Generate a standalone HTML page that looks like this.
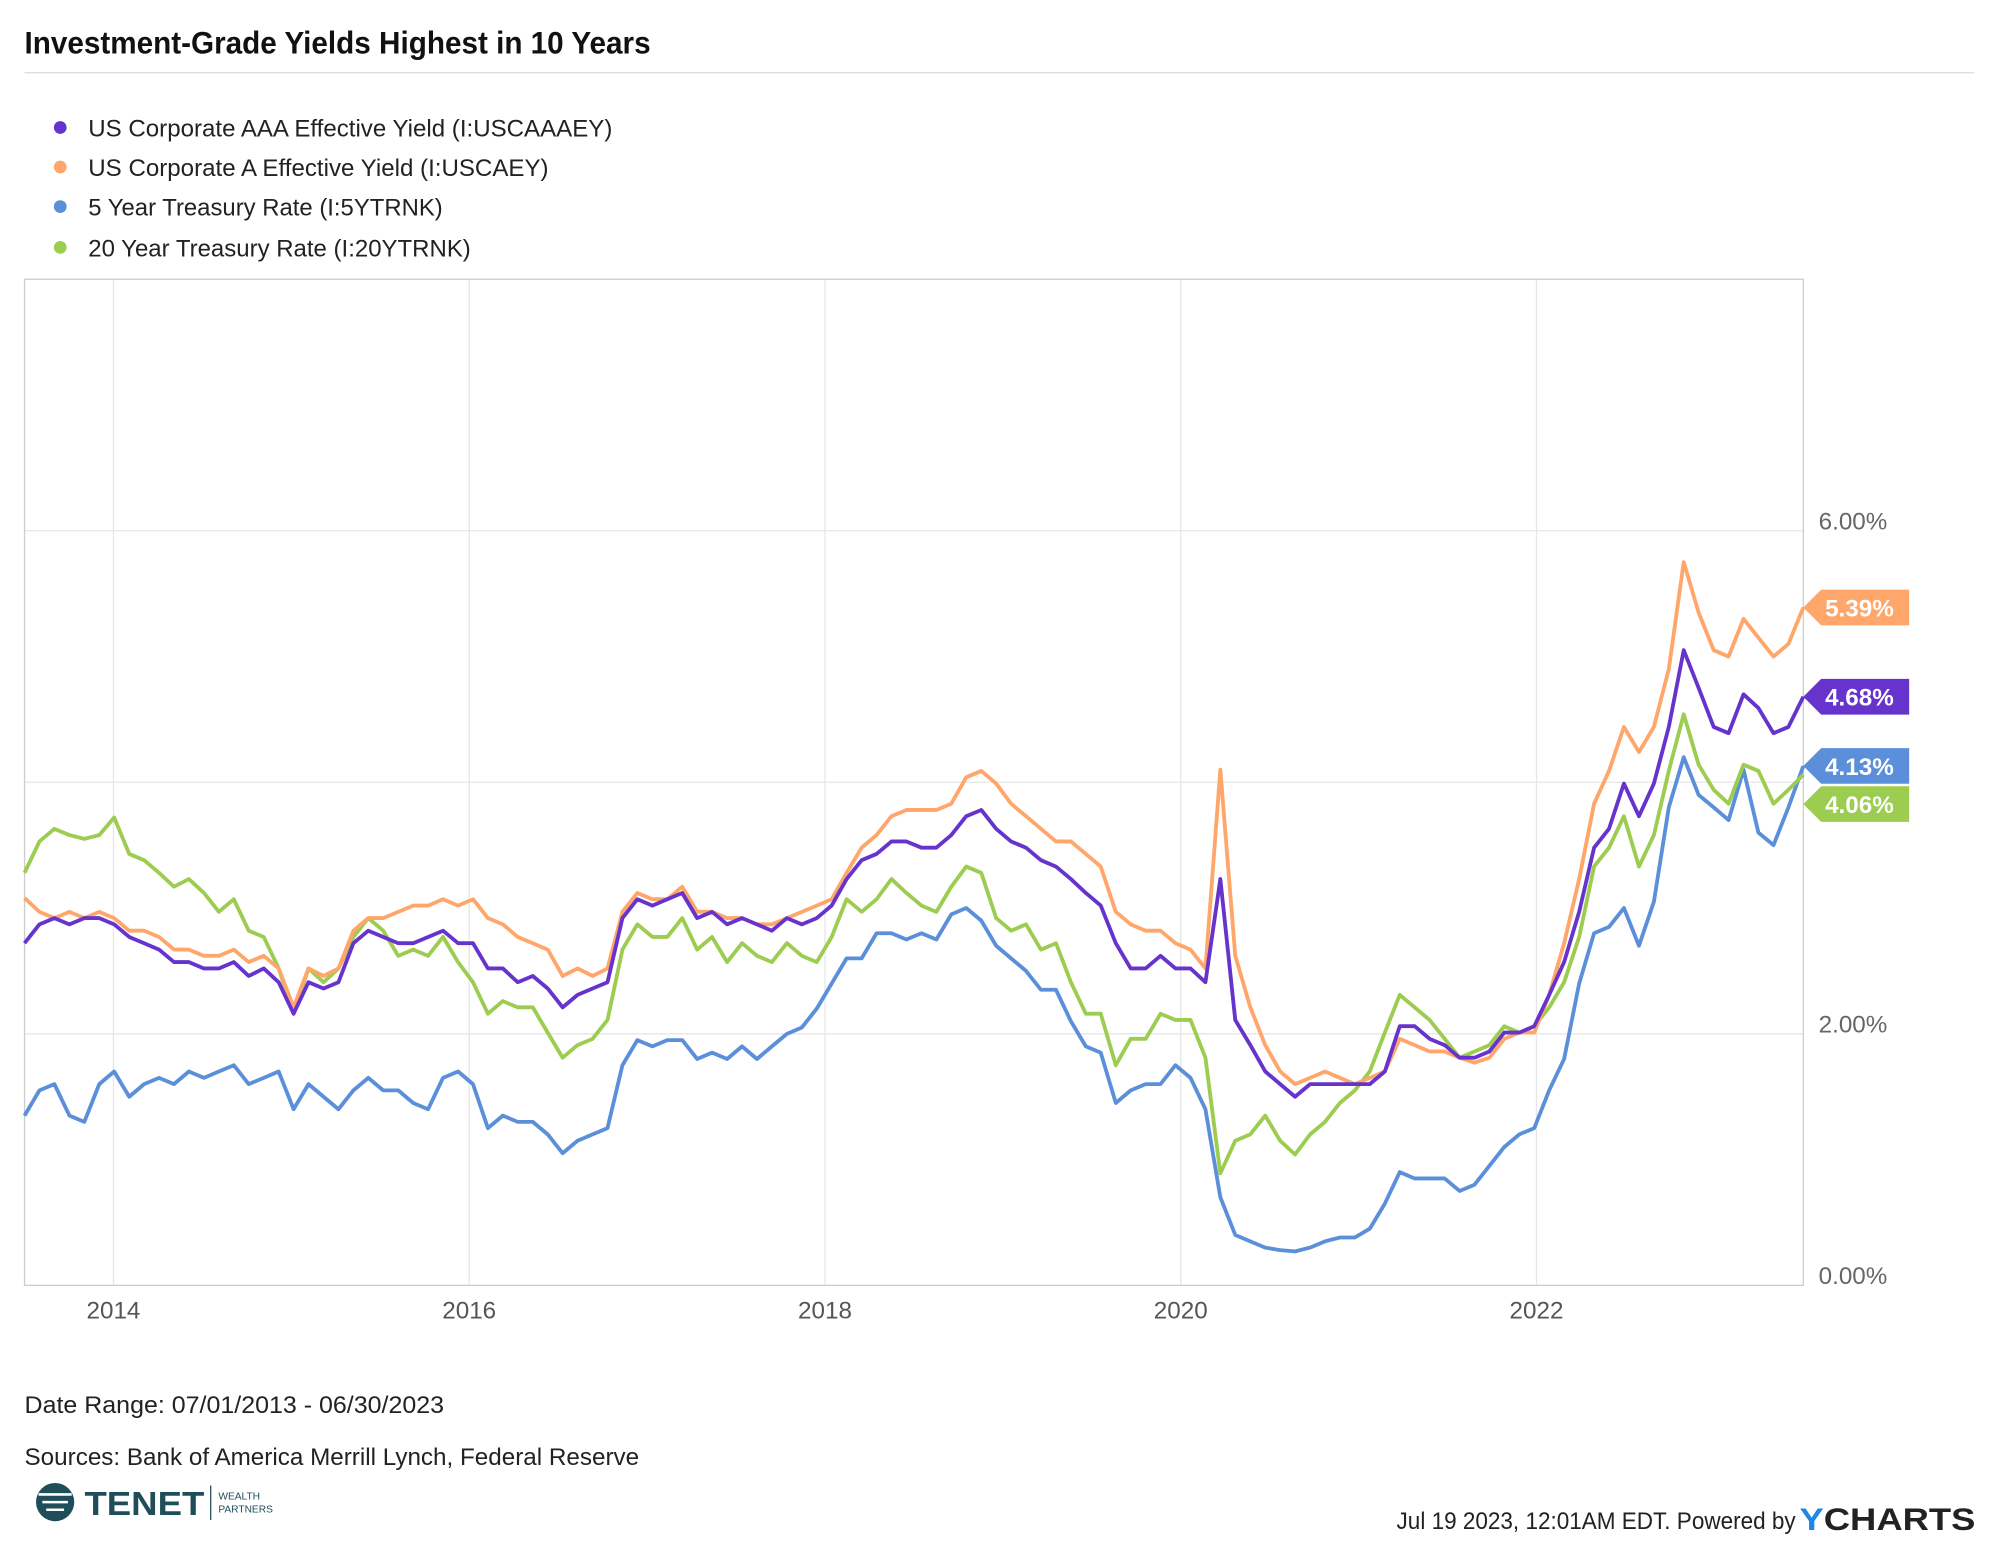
<!DOCTYPE html>
<html><head><meta charset="utf-8"><style>
html,body{margin:0;padding:0;background:#fff;}
svg{display:block;font-family:"Liberation Sans",sans-serif;}
</style></head><body>
<svg id="chart" width="2000" height="1548" viewBox="0 0 1568 1214" xmlns="http://www.w3.org/2000/svg">
<text x="19" y="42" font-family="'Liberation Sans Narrow','Liberation Sans',sans-serif" font-weight="bold" font-size="25" fill="#111" textLength="491" lengthAdjust="spacingAndGlyphs">Investment-Grade Yields Highest in 10 Years</text>
<line x1="19" y1="57" x2="1548" y2="57" stroke="#ddd" stroke-width="1"/>
<g font-size="19" fill="#222">
<g><circle cx="47" cy="100" r="5" fill="#6633cc"/><text x="69" y="107" textLength="411" lengthAdjust="spacingAndGlyphs">US Corporate AAA Effective Yield (I:USCAAAEY)</text></g>
<g><circle cx="47" cy="131" r="5" fill="#ffa66b"/><text x="69" y="138" textLength="361" lengthAdjust="spacingAndGlyphs">US Corporate A Effective Yield (I:USCAEY)</text></g>
<g><circle cx="47" cy="162" r="5" fill="#5b8fd9"/><text x="69" y="169" textLength="278" lengthAdjust="spacingAndGlyphs">5 Year Treasury Rate (I:5YTRNK)</text></g>
<g><circle cx="47" cy="194" r="5" fill="#9ccc50"/><text x="69" y="201" textLength="300" lengthAdjust="spacingAndGlyphs">20 Year Treasury Rate (I:20YTRNK)</text></g>
</g>
<g id="grid"></g>
<rect x="19" y="219" width="1395" height="789" fill="none" stroke="#ccc" stroke-width="1"/>
<g id="series"></g>
<g id="tags"></g>
<text x="19" y="1108" font-size="19" fill="#222" textLength="329" lengthAdjust="spacingAndGlyphs">Date Range: 07/01/2013 - 06/30/2023</text>
<text x="19" y="1149" font-size="19" fill="#222" textLength="482" lengthAdjust="spacingAndGlyphs">Sources: Bank of America Merrill Lynch, Federal Reserve</text>
<g>
<circle cx="43" cy="1178" r="15" fill="#1f4e5a"/>
<path d="M30 1172 L56 1172 M33 1178 L53 1178 M36 1184 L50 1184" stroke="#fff" stroke-width="2"/>
<text x="66" y="1188" font-size="26" font-weight="bold" fill="#1f4e5a" textLength="94" lengthAdjust="spacingAndGlyphs">TENET</text>
<line x1="165" y1="1165" x2="165" y2="1192" stroke="#1f4e5a" stroke-width="1"/>
<text x="171" y="1176" font-size="8" fill="#1f4e5a">WEALTH</text>
<text x="171" y="1186" font-size="8" fill="#1f4e5a">PARTNERS</text>
</g>
<text x="1408" y="1199" font-size="19" fill="#222" text-anchor="end" textLength="313" lengthAdjust="spacingAndGlyphs">Jul 19 2023, 12:01AM EDT. Powered by</text>
<text x="1411" y="1200" font-size="25" font-weight="bold" fill="#222" textLength="138" lengthAdjust="spacingAndGlyphs"><tspan fill="#1e88e5">Y</tspan>CHARTS</text>
</svg>
<script>
// Monthly data Jul 2013 .. Jun 2023 (percent)
const months = 120;
const yTicks = [0, 2, 6];
const yTickLabels = ["0.00%", "2.00%", "6.00%"];
const yGrid = [2, 4, 6];
const xTickYears = [2014, 2016, 2018, 2020, 2022];
const xTickLabels = ["2014", "2016", "2018", "2020", "2022"];
const aaa = [2.72,2.87,2.92,2.87,2.92,2.92, 2.87,2.77,2.72,2.67,2.57,2.57, 2.52,2.52,2.57,2.46,2.52,2.41, 2.16,2.41,2.36,2.41,2.72,2.82, 2.77,2.72,2.72,2.77,2.82,2.72, 2.72,2.52,2.52,2.41,2.46,2.36, 2.21,2.31,2.36,2.41,2.92,3.07, 3.02,3.07,3.12,2.92,2.97,2.87, 2.92,2.87,2.82,2.92,2.87,2.92, 3.02,3.23,3.38,3.43,3.53,3.53, 3.48,3.48,3.58,3.73,3.78,3.63, 3.53,3.48,3.38,3.33,3.23,3.12, 3.02,2.72,2.52,2.52,2.62,2.52, 2.52,2.41,3.23,2.11,1.91,1.70, 1.60,1.50,1.60,1.60,1.60,1.60, 1.60,1.70,2.06,2.06,1.96,1.91, 1.81,1.81,1.86,2.01,2.01,2.06, 2.31,2.57,2.97,3.48,3.63,3.99, 3.73,3.99,4.44,5.05,4.75,4.44, 4.39,4.70,4.59,4.39,4.44,4.68];
const corpA = [3.08,2.97,2.92,2.97,2.92,2.97, 2.92,2.82,2.82,2.77,2.67,2.67, 2.62,2.62,2.67,2.57,2.62,2.52, 2.21,2.52,2.46,2.52,2.82,2.92, 2.92,2.97,3.02,3.02,3.07,3.02, 3.07,2.92,2.87,2.77,2.72,2.67, 2.46,2.52,2.46,2.52,2.97,3.12, 3.07,3.07,3.17,2.97,2.97,2.92, 2.92,2.87,2.87,2.92,2.97,3.02, 3.07,3.28,3.48,3.58,3.73,3.78, 3.78,3.78,3.83,4.04,4.09,3.99, 3.83,3.73,3.63,3.53,3.53,3.43, 3.33,2.97,2.87,2.82,2.82,2.72, 2.67,2.52,4.10,2.62,2.21,1.91, 1.70,1.60,1.65,1.70,1.65,1.60, 1.65,1.70,1.96,1.91,1.86,1.86, 1.81,1.77,1.81,1.96,2.01,2.01, 2.31,2.72,3.23,3.83,4.09,4.44, 4.24,4.44,4.90,5.75,5.35,5.05, 5.00,5.30,5.15,5.00,5.10,5.39];
const t5y = [1.35,1.55,1.60,1.35,1.30,1.60, 1.70,1.50,1.60,1.65,1.60,1.70, 1.65,1.70,1.75,1.60,1.65,1.70, 1.40,1.60,1.50,1.40,1.55,1.65, 1.55,1.55,1.45,1.40,1.65,1.70, 1.60,1.25,1.35,1.30,1.30,1.20, 1.05,1.15,1.20,1.25,1.75,1.95, 1.90,1.95,1.95,1.80,1.85,1.80, 1.90,1.80,1.90,2.00,2.05,2.20, 2.40,2.60,2.60,2.80,2.80,2.75, 2.80,2.75,2.95,3.00,2.90,2.70, 2.60,2.50,2.35,2.35,2.10,1.90, 1.85,1.45,1.55,1.60,1.60,1.75, 1.65,1.40,0.70,0.40,0.35,0.30, 0.28,0.27,0.30,0.35,0.38,0.38, 0.45,0.65,0.90,0.85,0.85,0.85, 0.75,0.80,0.95,1.10,1.20,1.25, 1.55,1.80,2.40,2.80,2.85,3.00, 2.70,3.05,3.80,4.20,3.90,3.80, 3.70,4.10,3.60,3.50,3.80,4.13];
const t20y = [3.28,3.53,3.63,3.58,3.55,3.58, 3.72,3.43,3.38,3.28,3.17,3.23, 3.12,2.97,3.07,2.82,2.77,2.52, 2.16,2.52,2.41,2.52,2.77,2.92, 2.82,2.62,2.67,2.62,2.77,2.57, 2.41,2.16,2.26,2.21,2.21,2.01, 1.81,1.91,1.96,2.11,2.67,2.87, 2.77,2.77,2.92,2.67,2.77,2.57, 2.72,2.62,2.57,2.72,2.62,2.57, 2.77,3.07,2.97,3.07,3.23,3.12, 3.02,2.97,3.17,3.33,3.28,2.92, 2.82,2.87,2.67,2.72,2.41,2.16, 2.16,1.75,1.96,1.96,2.16,2.11, 2.11,1.81,0.89,1.15,1.20,1.35, 1.15,1.04,1.20,1.30,1.45,1.55, 1.70,2.01,2.31,2.21,2.11,1.96, 1.81,1.86,1.91,2.06,2.01,2.06, 2.21,2.41,2.77,3.33,3.48,3.73, 3.33,3.58,4.09,4.54,4.14,3.94, 3.83,4.14,4.09,3.83,3.94,4.06];

const X0 = 19, X1 = 1414, Y0 = 1008, Y1 = 219;
const NS = "http://www.w3.org/2000/svg";
function xOfYear(yr){ return X0 + (yr - 2013.5) / 10 * (X1 - X0); }
function xOfIndex(i){ return X0 + i / (months - 1) * (X1 - X0); }
function yOf(v){ return Y0 - v / 8 * (Y0 - Y1); }
function mk(tag, attrs, parent){ const e = document.createElementNS(NS, tag); for (const k in attrs) e.setAttribute(k, attrs[k]); parent.appendChild(e); return e; }

const grid = document.getElementById('grid');
yGrid.forEach(v => {
  const l = mk('line', {x1: X0, x2: X1, y1: yOf(v), y2: yOf(v), stroke: '#e6e6e6', 'stroke-width': 1}, grid);
  
  
});
xTickYears.forEach((yr, i) => {
  const l = mk('line', {x1: xOfYear(yr), x2: xOfYear(yr), y1: Y1, y2: Y0, stroke: '#e6e6e6', 'stroke-width': 1}, grid);
  
  
  const t = mk('text', {x: xOfYear(yr), y: 1034, 'font-size': 19, fill: '#555', 'text-anchor': 'middle'}, grid);
  t.textContent = xTickLabels[i];
  
  
});
yTicks.forEach((v, i) => {
  const t = mk('text', {x: 1426, y: yOf(v) - 1, 'font-size': 19, fill: '#666'}, grid);
  t.textContent = yTickLabels[i];
  
  
});

const series = document.getElementById('series');
function drawSeries(arr, color, name){
  let d = '';
  arr.forEach((v, i) => { d += (i ? 'L' : 'M') + xOfIndex(i).toFixed(1) + ' ' + yOf(v).toFixed(1); });
  const p = mk('path', {d: d, fill: 'none', stroke: color, 'stroke-width': 3, 'stroke-linejoin': 'round'}, series);
  
  
}
drawSeries(t5y, '#5b8fd9', 'line-5y-treasury');
drawSeries(t20y, '#9ccc50', 'line-20y-treasury');
drawSeries(corpA, '#ffa66b', 'line-corporate-a');
drawSeries(aaa, '#6633cc', 'line-corporate-aaa');

const tags = document.getElementById('tags');
const tagInfo = [
  {arr: corpA, color: '#ffa66b', name: 'tag-corporate-a', off: 0},
  {arr: aaa, color: '#6633cc', name: 'tag-corporate-aaa', off: 0},
  {arr: t5y, color: '#5b8fd9', name: 'tag-5y-treasury', off: 0},
  {arr: t20y, color: '#9ccc50', name: 'tag-20y-treasury', off: 23}
];
tagInfo.forEach(ti => {
  const v = ti.arr[ti.arr.length - 1];
  const cy = yOf(v) + ti.off;
  const g = mk('g', {}, tags);
  
  
  mk('path', {d: `M1414 ${cy} L1428 ${cy-14} L1497 ${cy-14} L1497 ${cy+14} L1428 ${cy+14} Z`, fill: ti.color}, g);
  const t = mk('text', {x: 1458, y: cy + 7, 'font-size': 19, 'font-weight': 'bold', fill: '#fff', 'text-anchor': 'middle'}, g);
  t.textContent = v.toFixed(2) + '%';
});
</script>
</body></html>
